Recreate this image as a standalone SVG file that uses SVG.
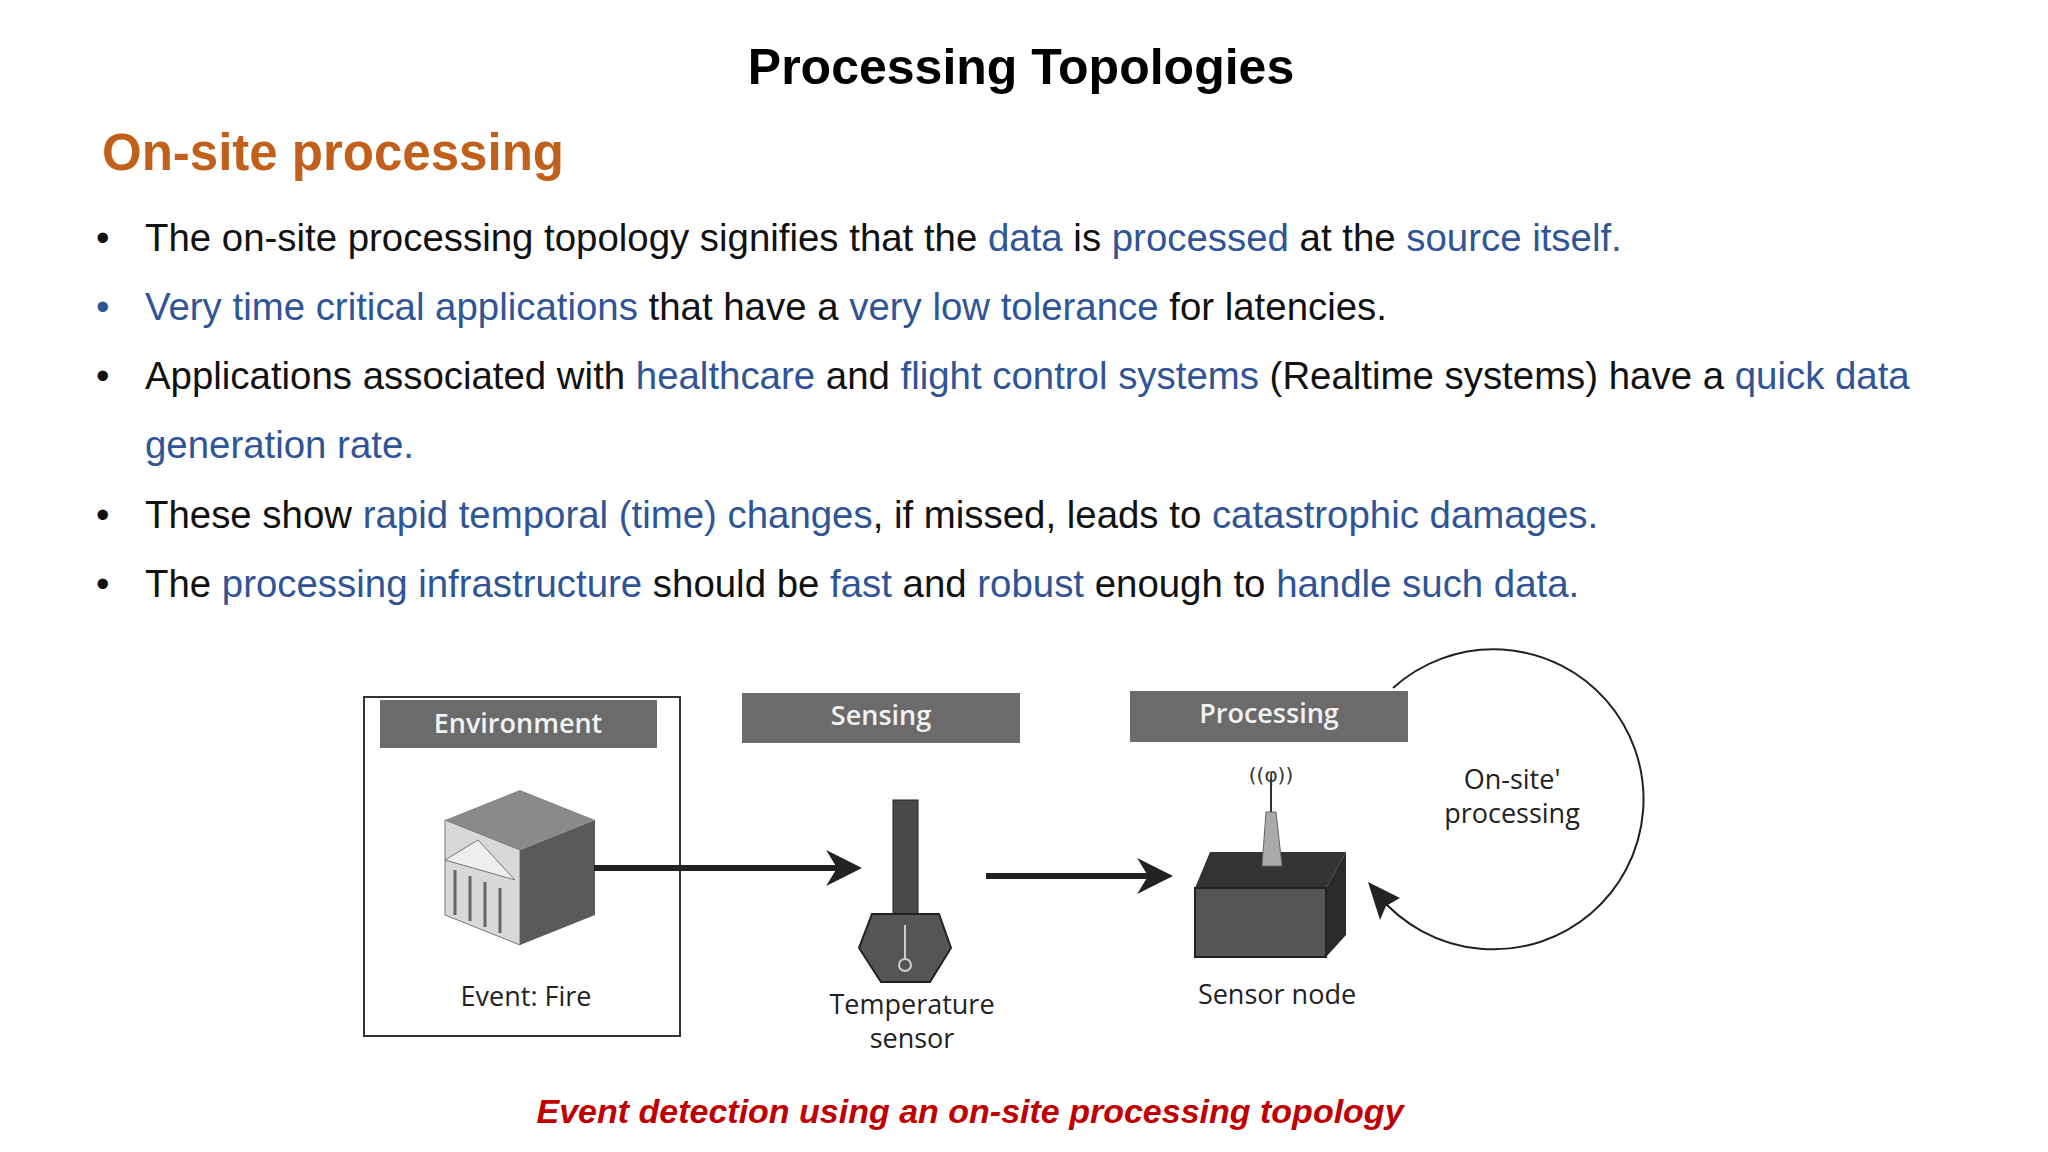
<svg xmlns="http://www.w3.org/2000/svg" width="2048" height="1152" viewBox="0 0 2048 1152">
<style>
.t{font-family:"Liberation Sans",Arial,sans-serif;font-size:38.4px;fill:#111}
.b{fill:#2f5597}
.hd{fill:#6b6b6b}
.ht{font-family:"Open Sans","Liberation Sans",sans-serif;font-size:27px;font-weight:600;fill:#f2f2f2;text-anchor:middle}
.lb{font-family:"Open Sans","Liberation Sans",sans-serif;font-size:27px;fill:#222;text-anchor:middle}
</style>
<defs>
<marker id="ah" viewBox="0 0 10 10" refX="8" refY="5" markerWidth="6" markerHeight="6" orient="auto" markerUnits="strokeWidth"><path d="M0,0 L10,5 L0,10 L3,5 Z" fill="#222"/></marker>
</defs>
<rect width="2048" height="1152" fill="#fff"/>
<text x="1021" y="84" text-anchor="middle" font-family="Liberation Sans,Arial,sans-serif" font-weight="bold" font-size="50" fill="#000">Processing Topologies</text>
<text x="102" y="170" font-family="Liberation Sans,Arial,sans-serif" font-weight="bold" font-size="51" fill="#c0601a">On-site processing</text>
<g class="t">
<text x="96" y="251">•</text><text x="145" y="251">The on-site processing topology signifies that the <tspan class="b">data</tspan> is <tspan class="b">processed</tspan> at the <tspan class="b">source itself.</tspan></text>
<text x="96" y="320" class="b">•</text><text x="145" y="320"><tspan class="b">Very time critical applications</tspan> that have a <tspan class="b">very low tolerance</tspan> for latencies.</text>
<text x="96" y="389">•</text><text x="145" y="389">Applications associated with <tspan class="b">healthcare</tspan> and <tspan class="b">flight control systems</tspan> (Realtime systems) have a <tspan class="b">quick data</tspan></text>
<text x="145" y="458" class="b">generation rate.</text>
<text x="96" y="528">•</text><text x="145" y="528">These show <tspan class="b">rapid temporal (time) changes</tspan>, if missed, leads to <tspan class="b">catastrophic damages.</tspan></text>
<text x="96" y="597">•</text><text x="145" y="597">The <tspan class="b">processing infrastructure</tspan> should be <tspan class="b">fast</tspan> and <tspan class="b">robust</tspan> enough to <tspan class="b">handle such data.</tspan></text>
</g>
<g id="environment">
<rect x="364" y="697" width="316" height="339" fill="none" stroke="#333" stroke-width="2"/>
<rect class="hd" x="380" y="700" width="277" height="48"/>
<text class="ht" x="518" y="733">Environment</text>
<polygon points="520,790 595,820 520,850 445,820" fill="#8a8a8a"/>
<polygon points="445,820 520,850 520,945 445,915" fill="#d8d8d8" stroke="#777"/>
<polygon points="520,850 595,820 595,915 520,945" fill="#5a5a5a"/>
<g stroke="#666" stroke-width="3"><line x1="455" y1="870" x2="455" y2="915"/><line x1="470" y1="876" x2="470" y2="921"/><line x1="485" y1="882" x2="485" y2="927"/><line x1="500" y1="888" x2="500" y2="933"/></g>
<polygon points="445,860 478,840 515,880" fill="#eee" stroke="#777"/>
<text class="lb" x="526" y="1006">Event: Fire</text>
</g>
<g id="sensor">
<rect class="hd" x="742" y="693" width="278" height="50"/>
<text class="ht" x="881" y="725">Sensing</text>
<rect x="893" y="800" width="25" height="114" fill="#4a4a4a" stroke="#222"/>
<polygon points="872,914 939,914 951,948 930,982 881,982 859,948" fill="#555" stroke="#222" stroke-width="2"/>
<line x1="905" y1="925" x2="905" y2="960" stroke="#ccc" stroke-width="2"/>
<circle cx="905" cy="965" r="6" fill="none" stroke="#ccc" stroke-width="2"/>
<text class="lb" x="912" y="1014">Temperature</text>
<text class="lb" x="912" y="1048">sensor</text>
</g>
<g id="sensornode">
<rect class="hd" x="1130" y="691" width="278" height="51"/>
<text class="ht" x="1269" y="723">Processing</text>
<polygon points="1195,888 1210,852 1346,852 1326,888" fill="#333"/>
<polygon points="1326,888 1346,852 1346,935 1326,957" fill="#2a2a2a"/>
<rect x="1195" y="888" width="131" height="69" fill="#555" stroke="#222" stroke-width="2"/>
<path d="M1262,866 L1266,812 L1276,812 L1282,866 Z" fill="#aaa" stroke="#666"/>
<line x1="1271" y1="812" x2="1271" y2="778" stroke="#333" stroke-width="2"/>
<text x="1271" y="782" text-anchor="middle" font-family="DejaVu Sans,sans-serif" font-size="20" fill="#333">((φ))</text>
<text class="lb" x="1277" y="1004">Sensor node</text>
<text class="lb" x="1512" y="789">On-site'</text>
<text class="lb" x="1512" y="823">processing</text>
</g>
<g id="connectors" fill="none" stroke="#222">
<line x1="594" y1="868" x2="855" y2="868" stroke-width="6" marker-end="url(#ah)"/>
<line x1="986" y1="876" x2="1166" y2="876" stroke-width="6" marker-end="url(#ah)"/>
<path d="M1393,688 A150,150 0 1 1 1378,895" stroke-width="2"/>
<polygon points="1368,882 1400,898 1386,906 1380,920" fill="#222" stroke="none"/>
</g>
<text x="970" y="1123" text-anchor="middle" font-family="Liberation Sans,Arial,sans-serif" font-weight="bold" font-style="italic" font-size="34" fill="#c00000">Event detection using an on-site processing topology</text>
</svg>
